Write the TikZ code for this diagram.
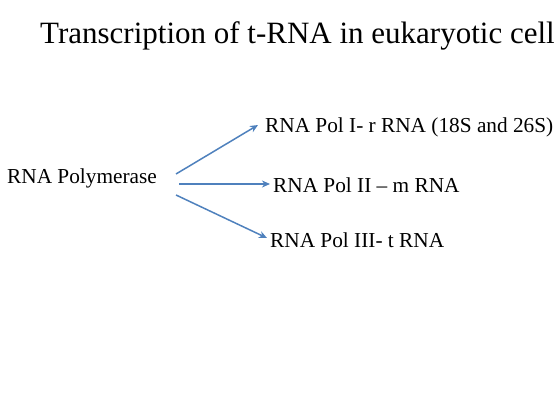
\documentclass[tikz,border=0pt]{standalone}
\usepackage{fontspec}
\setmainfont{Liberation Serif}
\usetikzlibrary{arrows.meta}
\definecolor{arrblue}{HTML}{4F81BD}
\begin{document}
\begin{tikzpicture}[x=1pt,y=-1pt,
  lbl/.style={anchor=base west,inner sep=0pt,font=\fontsize{21.3}{25}\selectfont},
  ttl/.style={anchor=base west,inner sep=0pt,font=\fontsize{31}{37}\selectfont},
  arr/.style={draw=arrblue,line width=1.5pt,-{Stealth[length=8pt,width=7pt,inset=2.5pt]}}]
\useasboundingbox (0,0) rectangle (560,420);
\node[ttl] (title) at (40,44) {Transcription of t-RNA in eukaryotic cell};
\node[lbl] (src) at (7,183) {RNA Polymerase};
\node[lbl] (t1) at (265,132) {RNA Pol I- r RNA (18S and 26S)};
\node[lbl] (t2) at (273,192) {RNA Pol II -- m RNA};
\node[lbl] (t3) at (270,247) {RNA Pol III- t RNA};
\coordinate (s1) at (176,174);
\coordinate (s2) at (179,184);
\coordinate (s3) at (176,195);
\coordinate (e1) at (258,125);
\coordinate (e2) at (270,184);
\coordinate (e3) at (267,238);
\draw[arr] (s1) -- (e1);
\draw[arr] (s2) -- (e2);
\draw[arr] (s3) -- (e3);
\end{tikzpicture}
\end{document}
